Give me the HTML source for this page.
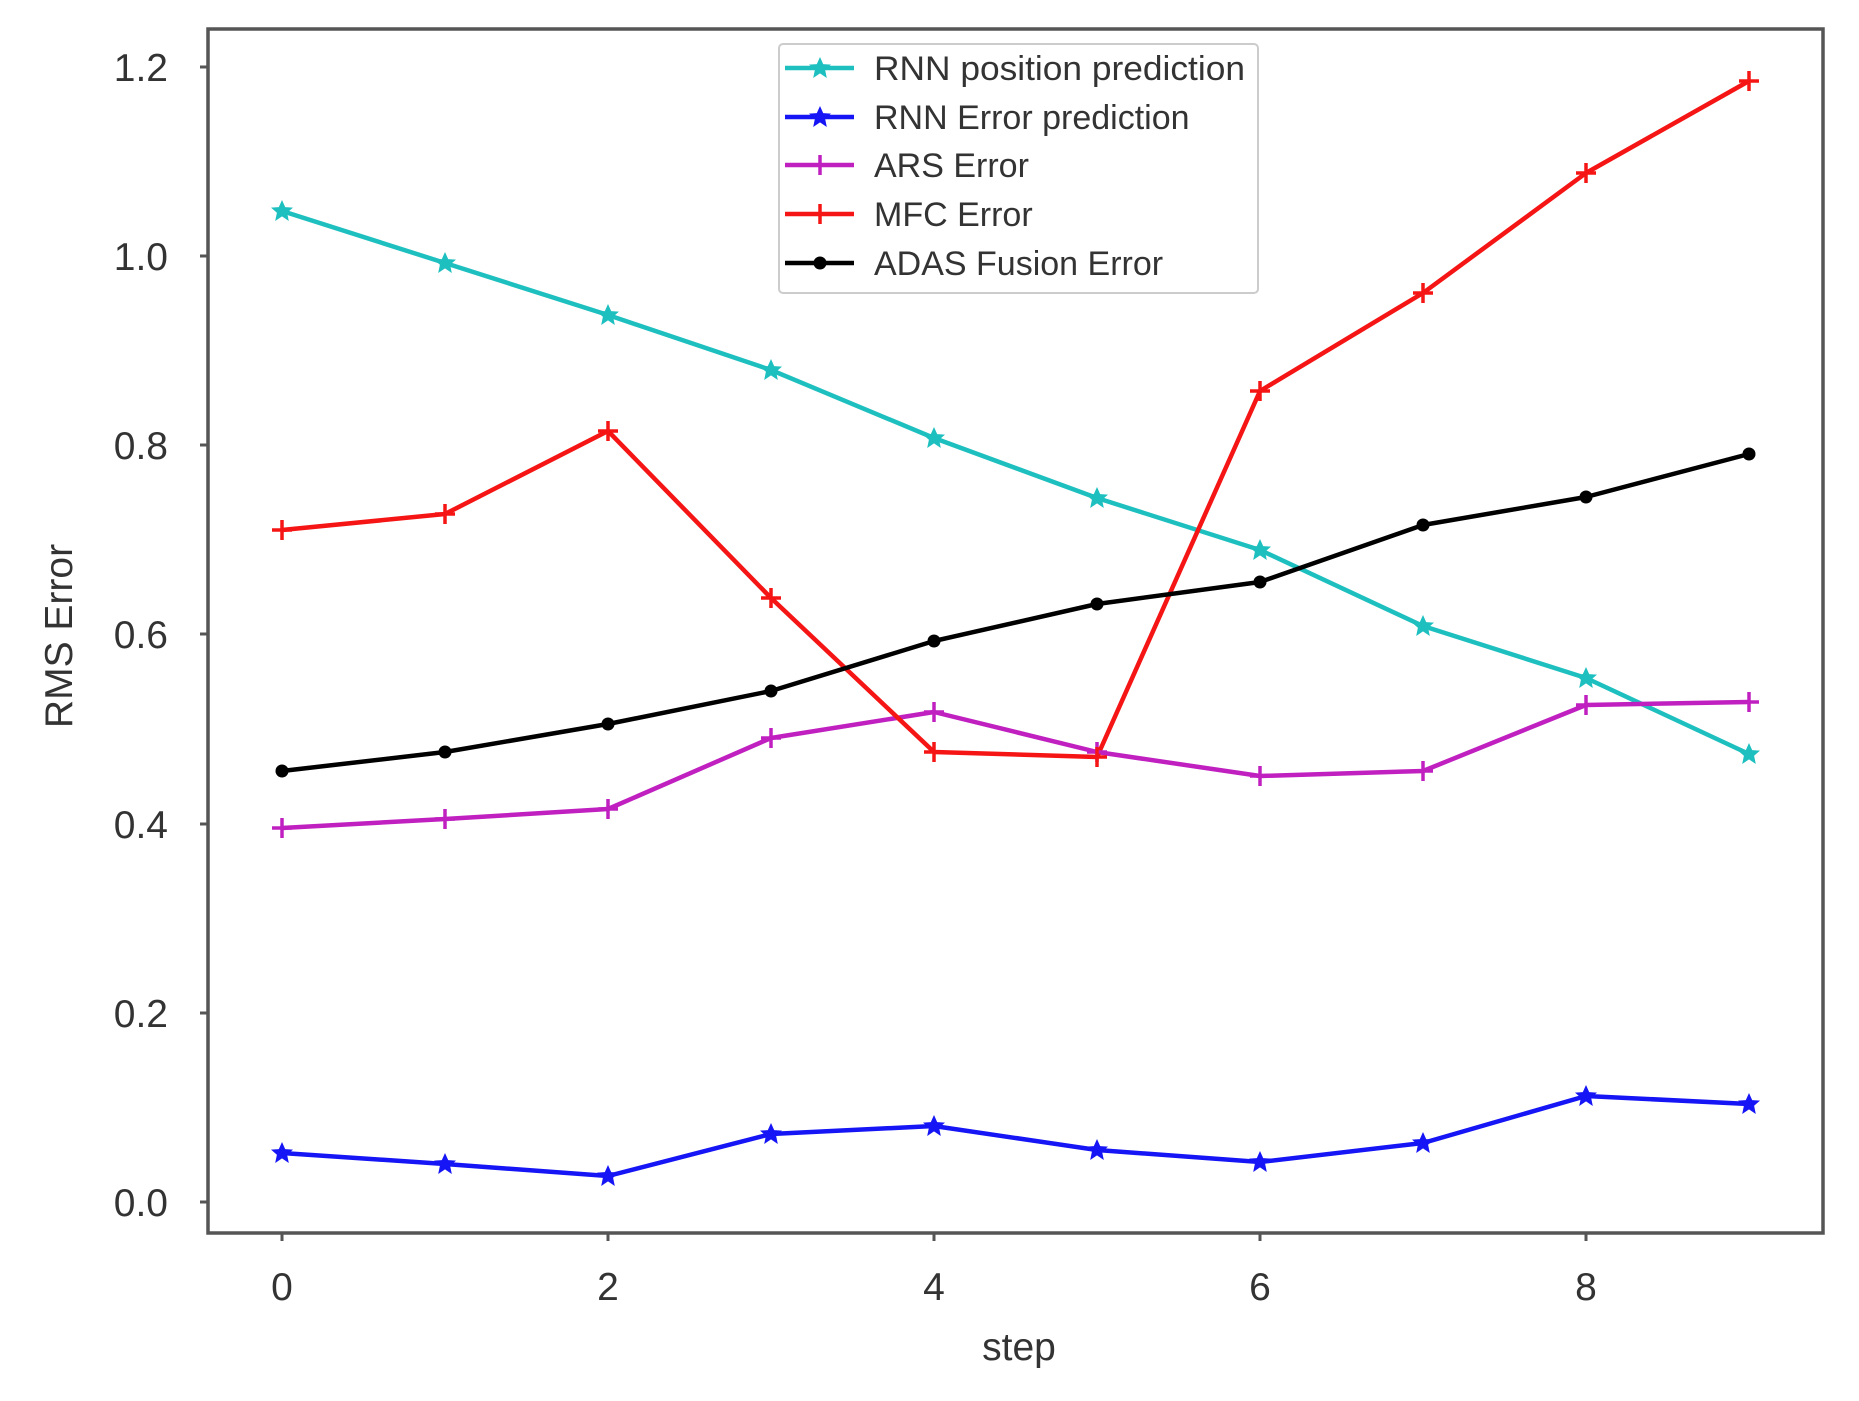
<!DOCTYPE html>
<html><head><style>body{margin:0;background:#fff}svg{display:block}</style></head><body>
<svg width="1859" height="1401" viewBox="0 0 1859 1401" xmlns="http://www.w3.org/2000/svg" font-family="Liberation Sans, DejaVu Sans, sans-serif">
<defs>
<path id="star" d="M0,-11 L3.2,-3.9 11,-3.4 5.1,1.7 6.8,10 0,5.4 -6.8,10 -5.1,1.7 -11,-3.4 -3.2,-3.9Z"/>
<path id="plus" d="M-10,0H10M0,-10V10" stroke-width="3.5"/>
</defs>
<rect x="208" y="29" width="1615" height="1204" fill="none" stroke="#555" stroke-width="3.5"/>
<g stroke="#555" stroke-width="3">
<line x1="200" y1="1202" x2="208" y2="1202"/><line x1="200" y1="1013" x2="208" y2="1013"/><line x1="200" y1="824" x2="208" y2="824"/><line x1="200" y1="634" x2="208" y2="634"/><line x1="200" y1="445" x2="208" y2="445"/><line x1="200" y1="256" x2="208" y2="256"/><line x1="200" y1="67" x2="208" y2="67"/>
<line x1="282" y1="1233" x2="282" y2="1241"/><line x1="608" y1="1233" x2="608" y2="1241"/><line x1="934" y1="1233" x2="934" y2="1241"/><line x1="1260" y1="1233" x2="1260" y2="1241"/><line x1="1586" y1="1233" x2="1586" y2="1241"/>
</g>
<g font-size="39" fill="#333" text-anchor="end">
<text x="168" y="1216">0.0</text><text x="168" y="1027">0.2</text><text x="168" y="838">0.4</text><text x="168" y="648">0.6</text><text x="168" y="459">0.8</text><text x="168" y="270">1.0</text><text x="168" y="81">1.2</text>
</g>
<g font-size="39" fill="#333" text-anchor="middle">
<text x="282" y="1300">0</text><text x="608" y="1300">2</text><text x="934" y="1300">4</text><text x="1260" y="1300">6</text><text x="1586" y="1300">8</text>
<text x="1019" y="1360">step</text>
<text transform="translate(72,636) rotate(-90)">RMS Error</text>
</g>
<g fill="none" stroke-width="4.5" stroke-linejoin="round">
<polyline stroke="#1ebfbf" points="282,211 445,263 608,315 771,370 934,438 1097,498 1260,550 1423,626 1586,678 1749,754"/>
<polyline stroke="#1515f5" points="282,1153 445,1164 608,1176 771,1134 934,1126 1097,1150 1260,1162 1423,1143 1586,1096 1749,1104"/>
<polyline stroke="#c020c0" points="282,828 445,819 608,809 771,738 934,712 1097,752 1260,776 1423,771 1586,705 1749,702"/>
<polyline stroke="#f51515" points="282,530 445,514 608,431 771,598 934,752 1097,757 1260,391 1423,293 1586,173 1749,81"/>
<polyline stroke="#000" points="282,771 445,752 608,724 771,691 934,641 1097,604 1260,582 1423,525 1586,497 1749,454"/>
</g>
<g fill="#1ebfbf"><use href="#star" x="282" y="211"/><use href="#star" x="445" y="263"/><use href="#star" x="608" y="315"/><use href="#star" x="771" y="370"/><use href="#star" x="934" y="438"/><use href="#star" x="1097" y="498"/><use href="#star" x="1260" y="550"/><use href="#star" x="1423" y="626"/><use href="#star" x="1586" y="678"/><use href="#star" x="1749" y="754"/></g>
<g fill="#1515f5"><use href="#star" x="282" y="1153"/><use href="#star" x="445" y="1164"/><use href="#star" x="608" y="1176"/><use href="#star" x="771" y="1134"/><use href="#star" x="934" y="1126"/><use href="#star" x="1097" y="1150"/><use href="#star" x="1260" y="1162"/><use href="#star" x="1423" y="1143"/><use href="#star" x="1586" y="1096"/><use href="#star" x="1749" y="1104"/></g>
<g stroke="#c020c0"><use href="#plus" x="282" y="828"/><use href="#plus" x="445" y="819"/><use href="#plus" x="608" y="809"/><use href="#plus" x="771" y="738"/><use href="#plus" x="934" y="712"/><use href="#plus" x="1097" y="752"/><use href="#plus" x="1260" y="776"/><use href="#plus" x="1423" y="771"/><use href="#plus" x="1586" y="705"/><use href="#plus" x="1749" y="702"/></g>
<g stroke="#f51515"><use href="#plus" x="282" y="530"/><use href="#plus" x="445" y="514"/><use href="#plus" x="608" y="431"/><use href="#plus" x="771" y="598"/><use href="#plus" x="934" y="752"/><use href="#plus" x="1097" y="757"/><use href="#plus" x="1260" y="391"/><use href="#plus" x="1423" y="293"/><use href="#plus" x="1586" y="173"/><use href="#plus" x="1749" y="81"/></g>
<g fill="#000"><circle cx="282" cy="771" r="6.5"/><circle cx="445" cy="752" r="6.5"/><circle cx="608" cy="724" r="6.5"/><circle cx="771" cy="691" r="6.5"/><circle cx="934" cy="641" r="6.5"/><circle cx="1097" cy="604" r="6.5"/><circle cx="1260" cy="582" r="6.5"/><circle cx="1423" cy="525" r="6.5"/><circle cx="1586" cy="497" r="6.5"/><circle cx="1749" cy="454" r="6.5"/></g>
<rect x="779" y="44" width="479" height="249" rx="4" fill="#fff" fill-opacity="0.85" stroke="#ccc" stroke-width="2"/>
<g stroke-width="4.5">
<line x1="785" y1="68" x2="854" y2="68" stroke="#1ebfbf"/><use href="#star" x="820" y="68" fill="#1ebfbf"/>
<line x1="785" y1="117" x2="854" y2="117" stroke="#1515f5"/><use href="#star" x="820" y="117" fill="#1515f5"/>
<line x1="785" y1="165" x2="854" y2="165" stroke="#c020c0"/><use href="#plus" x="820" y="165" stroke="#c020c0"/>
<line x1="785" y1="214" x2="854" y2="214" stroke="#f51515"/><use href="#plus" x="820" y="214" stroke="#f51515"/>
<line x1="785" y1="263" x2="854" y2="263" stroke="#000"/><circle cx="820" cy="263" r="6.5"/>
</g>
<g font-size="34" fill="#333">
<text x="874" y="80" textLength="371" lengthAdjust="spacingAndGlyphs">RNN position prediction</text>
<text x="874" y="129">RNN Error prediction</text>
<text x="874" y="177">ARS Error</text>
<text x="874" y="226">MFC Error</text>
<text x="874" y="275">ADAS Fusion Error</text>
</g>
</svg>
</body></html>
